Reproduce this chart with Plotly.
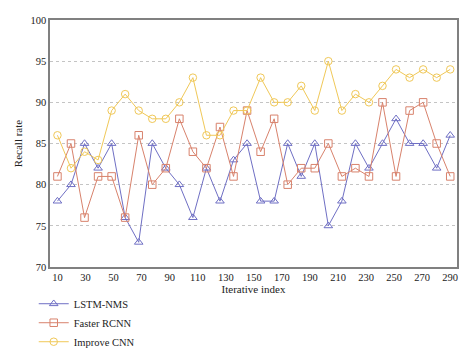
import plotly.graph_objects as go

iter_index = list(range(30))
tick_labels = ["10", "30", "50", "70", "90", "110", "130", "150", "170", "190",
               "210", "230", "250", "270", "290"]

lstm_nms = [78, 80, 85, 82, 85, 76, 73, 85, 82, 80, 76, 82, 78, 83, 85,
            78, 78, 85, 81, 85, 75, 78, 85, 82, 85, 88, 85, 85, 82, 86]
faster_rcnn = [81, 85, 76, 81, 81, 76, 86, 80, 82, 88, 84, 82, 87, 81, 89,
               84, 88, 80, 82, 82, 85, 81, 82, 81, 90, 81, 89, 90, 85, 81]
improve_cnn = [86, 82, 84, 83, 89, 91, 89, 88, 88, 90, 93, 86, 86, 89, 89,
               93, 90, 90, 92, 89, 95, 89, 91, 90, 92, 94, 93, 94, 93, 94]

series = [
    ("LSTM-NMS", lstm_nms, "#6f6fc4", "triangle-up-open"),
    ("Faster RCNN", faster_rcnn, "#d8826c", "square-open"),
    ("Improve CNN", improve_cnn, "#f0c858", "circle-open"),
]

fig = go.Figure()
for name, vals, col, sym in series:
    fig.add_trace(go.Scatter(
        x=iter_index, y=vals, name=name, mode="lines+markers",
        line=dict(color=col, width=1),
        marker=dict(symbol=sym, size=7.5, color=col, line=dict(width=1, color=col)),
    ))

n_ticks = len(tick_labels)
tickvals = [k * (len(iter_index) - 1) / (n_ticks - 1) for k in range(n_ticks)]

font_family = "Liberation Serif, Times New Roman, serif"
fig.update_layout(
    width=466, height=349,
    margin=dict(l=42, r=17, t=12, b=90, autoexpand=False),
    paper_bgcolor="white", plot_bgcolor="white",
    font=dict(family=font_family, size=10, color="#222"),
    showlegend=True,
    legend=dict(x=-0.04, y=-0.09, xanchor="left", yanchor="top",
                orientation="v", font=dict(size=10.5, family=font_family),
                bgcolor="rgba(0,0,0,0)", tracegroupgap=0, itemwidth=30),
    xaxis=dict(
        range=[-0.55, 29.5], tickvals=tickvals, ticktext=tick_labels,
        showgrid=False, zeroline=False, showline=True, mirror=True,
        linecolor="#808080", linewidth=1.5, ticks="", automargin=False,
        title=dict(text="Iterative index", font=dict(size=11), standoff=1),
        tickfont=dict(size=10.5),
    ),
    yaxis=dict(
        range=[70, 100], tickvals=[70, 75, 80, 85, 90, 95, 100],
        showgrid=True, gridcolor="#c4c4c4", griddash="dot", gridwidth=1,
        zeroline=False, showline=True, mirror=True,
        linecolor="#808080", linewidth=1.5, ticks="", automargin=False,
        title=dict(text="Recall rate", font=dict(size=11), standoff=6),
        tickfont=dict(size=10.5),
    ),
)

fig.write_html("out.html")
